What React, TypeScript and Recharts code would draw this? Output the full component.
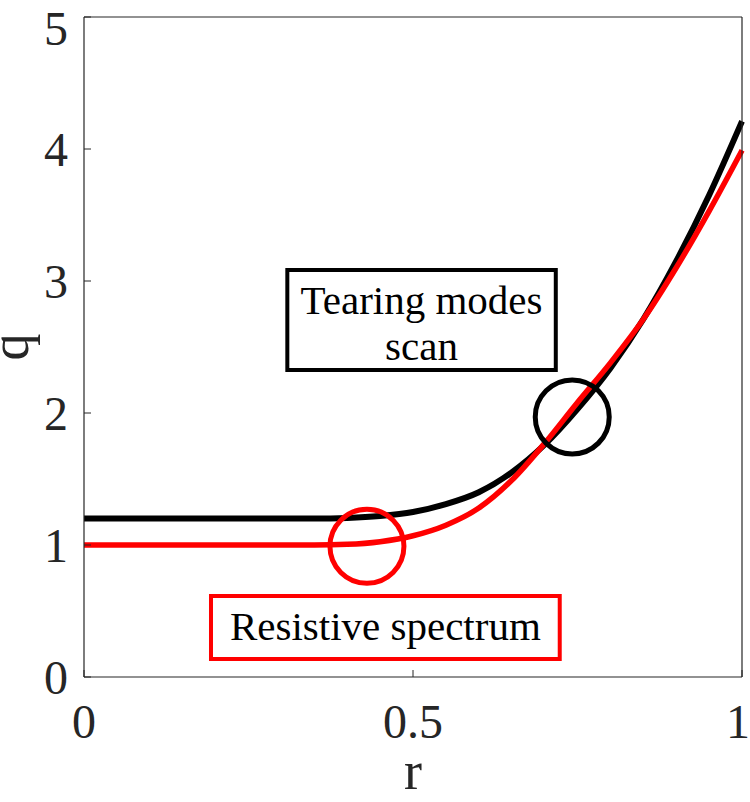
import React from "react";
import {
  LineChart,
  Line,
  XAxis,
  YAxis,
  ReferenceArea,
  ReferenceDot,
} from "recharts";

// normalized radius
const R = [0, 0.1, 0.2, 0.3, 0.35, 0.4, 0.45, 0.5, 0.55, 0.6, 0.65, 0.7, 0.75, 0.8, 0.85, 0.9, 0.95, 1.0];
// safety factor profiles
const Q_TEARING = [1.2, 1.2, 1.2, 1.2, 1.2, 1.205, 1.22, 1.25, 1.31, 1.4, 1.55, 1.76, 2.03, 2.34, 2.71, 3.15, 3.65, 4.21];
const Q_RESISTIVE = [1.0, 1.0, 1.0, 1.0, 1.0, 1.005, 1.025, 1.07, 1.15, 1.28, 1.49, 1.77, 2.08, 2.38, 2.71, 3.1, 3.53, 3.99];

const X_TICKS = [0, 0.5, 1];
const Y_TICKS = [0, 1, 2, 3, 4, 5];

// rational surfaces picked out on each profile
const SURFACES = [
  { r: 0.742, q: 1.97, color: "#000000" },
  { r: 0.43, q: 0.99, color: "#ff0000" },
];

const BOXES = [
  { lines: ["Tearing modes", "scan"], x1: 0.309, x2: 0.717, y1: 2.326, y2: 3.083, color: "#000000" },
  { lines: ["Resistive spectrum"], x1: 0.193, x2: 0.723, y1: 0.136, y2: 0.614, color: "#ff0000" },
];

const data = R.map((r, i) => ({ r, tearing: Q_TEARING[i], resistive: Q_RESISTIVE[i] }));

const FONT = "Liberation Serif, Times New Roman, serif";
const AXIS = "#262626";

function BoxText(props: any) {
  const { viewBox, lines } = props;
  if (!viewBox) return null;
  const cx = viewBox.x + viewBox.width / 2;
  return (
    <text style={{ fontFamily: FONT }} fontSize={41} fill="#000" textAnchor="middle">
      {lines.map((t: string, i: number) => (
        <tspan key={i} x={cx} y={viewBox.y + 44 + i * 46}>
          {t}
        </tspan>
      ))}
    </text>
  );
}

function XTitle(props: any) {
  const { viewBox } = props;
  if (!viewBox) return null;
  return (
    <text x={viewBox.x + viewBox.width / 2} y={viewBox.y + 112} textAnchor="middle"
      style={{ fontFamily: FONT }} fontSize={54} fill={AXIS}>
      r
    </text>
  );
}

function YTitle(props: any) {
  const { viewBox } = props;
  if (!viewBox) return null;
  const x = viewBox.x + 28;
  const y = viewBox.y + viewBox.height / 2;
  return (
    <text x={x} y={y} textAnchor="middle" transform={`rotate(-90, ${x}, ${y})`}
      style={{ fontFamily: FONT }} fontSize={54} fill={AXIS}>
      q
    </text>
  );
}

export default function App() {
  const tickStyle = { fontFamily: FONT, fontSize: 48, fill: AXIS, style: { fontFamily: FONT } };
  return (
    <div style={{ position: "absolute", left: 0, top: 0, background: "#fff", fontFamily: FONT }}>
      <LineChart width={750} height={802} data={data} margin={{ top: 0, right: 0, bottom: 0, left: 0 }}>
        <XAxis xAxisId="bottom" dataKey="r" type="number" domain={[0, 1]} ticks={X_TICKS}
          height={125} tickSize={-7} tickMargin={34} tick={tickStyle}
          axisLine={{ stroke: AXIS, strokeWidth: 1.2 }} tickLine={{ stroke: AXIS }}
          label={<XTitle />} />
        <XAxis xAxisId="top" orientation="top" dataKey="r" type="number" domain={[0, 1]} ticks={X_TICKS}
          height={17} tickSize={-7} tick={false}
          axisLine={{ stroke: AXIS, strokeWidth: 1.2 }} tickLine={{ stroke: AXIS }} />
        <YAxis yAxisId="left" type="number" domain={[0, 5]} ticks={Y_TICKS} width={84}
          tickSize={-7} tickMargin={23} tick={tickStyle}
          axisLine={{ stroke: AXIS, strokeWidth: 1.2 }} tickLine={{ stroke: AXIS }}
          label={<YTitle />} />
        <YAxis yAxisId="right" orientation="right" type="number" domain={[0, 5]} ticks={Y_TICKS} width={8}
          tickSize={-7} tick={false}
          axisLine={{ stroke: AXIS, strokeWidth: 1.2 }} tickLine={{ stroke: AXIS }} />

        <Line xAxisId="bottom" yAxisId="left" dataKey="tearing" type="monotone" stroke="#000000"
          strokeWidth={6} dot={false} isAnimationActive={false} />
        <Line xAxisId="bottom" yAxisId="left" dataKey="resistive" type="monotone" stroke="#ff0000"
          strokeWidth={5.5} dot={false} isAnimationActive={false} />

        {SURFACES.map((s, i) => (
          <ReferenceDot key={i} xAxisId="bottom" yAxisId="left" x={s.r} y={s.q} r={37}
            fill="none" stroke={s.color} strokeWidth={5} />
        ))}
        {BOXES.map((b, i) => (
          <ReferenceArea key={i} xAxisId="bottom" yAxisId="left" x1={b.x1} x2={b.x2} y1={b.y1} y2={b.y2}
            fill="none" fillOpacity={0} stroke={b.color} strokeWidth={4}
            label={<BoxText lines={b.lines} />} />
        ))}
      </LineChart>
    </div>
  );
}
